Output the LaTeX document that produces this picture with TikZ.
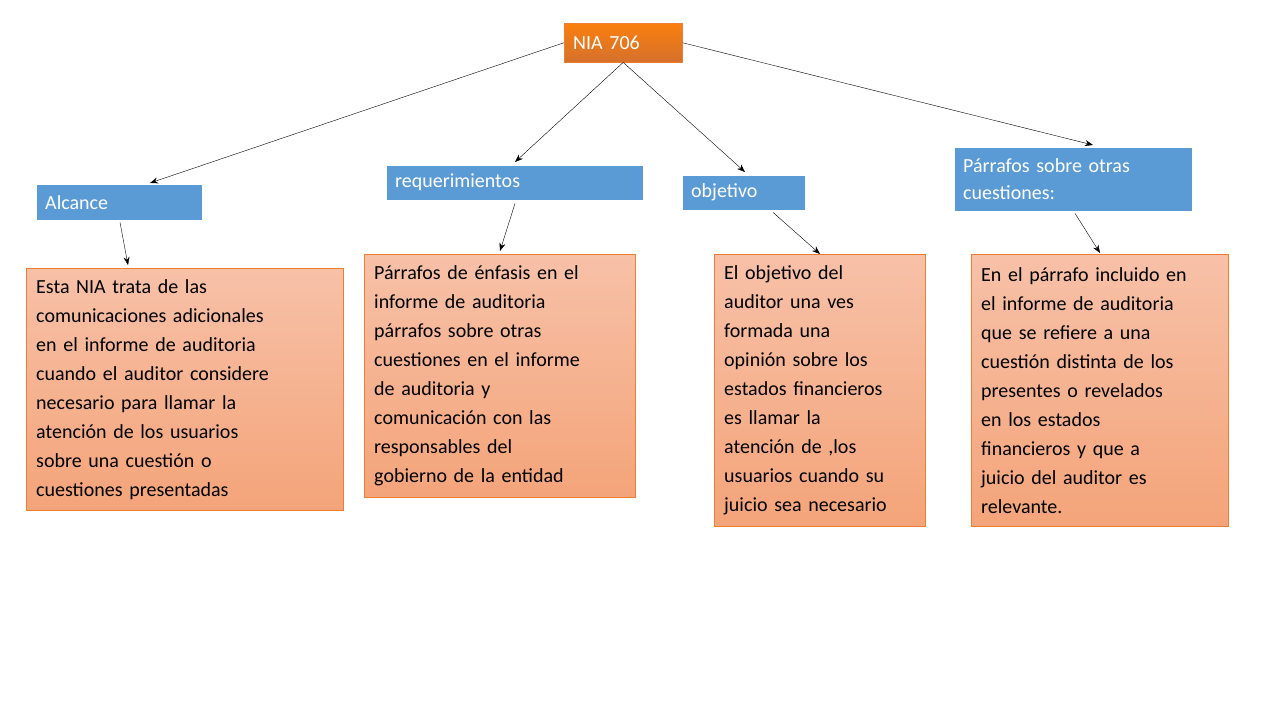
\documentclass[tikz,border=0pt]{standalone}
\usepackage{fontspec}
\setmainfont{Carlito}
\usetikzlibrary{arrows.meta,calc}
\begin{document}
\begin{tikzpicture}[x=1pt,y=-1pt,
  head/.style={draw=white,fill=blue5,text=white,anchor=north west,inner xsep=9pt,inner ysep=0pt,align=left,font=\fontsize{20}{27}\selectfont},
  body/.style={draw=obd,top color=otop,bottom color=obot,anchor=north west,inner xsep=10pt,inner ysep=0pt,align=left,font=\fontsize{20}{29}\selectfont},
  arr/.style={-{Stealth[length=8pt,width=6pt]},black}]
\definecolor{blue5}{HTML}{5B9BD5}
\definecolor{obd}{HTML}{ED7D31}
\definecolor{otop}{HTML}{F7C1A8}
\definecolor{obot}{HTML}{F4A479}
\useasboundingbox[fill=white] (0,0) rectangle (1280,720);
\node[draw=obd,top color=orange!70!obd,bottom color=obd!90!black,text=white,anchor=north west,minimum width=118pt,minimum height=39pt,inner xsep=9pt,align=left,text width=100pt,font=\fontsize{20}{24}\selectfont] (nia) at (564,23) {NIA 706};
\node[head,minimum width=166pt,minimum height=36pt,text width=148pt] (alc) at (36,184) {Alcance};
\node[head,minimum width=257pt,minimum height=35pt,text width=239pt] (req) at (386,165) {requerimientos};
\node[head,minimum width=123pt,minimum height=35pt,text width=105pt] (obj) at (682,175) {objetivo};
\node[head,minimum width=238pt,minimum height=64pt,text width=220pt] (par) at (954,147) {Párrafos sobre otras\\cuestiones:};
\node[body,minimum width=317pt,minimum height=242pt,text width=297pt] (b1) at (26,268) {Esta NIA trata de las\\comunicaciones adicionales\\en el informe de auditoria\\cuando el auditor considere\\necesario para llamar la\\atención de los usuarios\\sobre una cuestión o\\cuestiones presentadas};
\node[body,minimum width=271pt,minimum height=243pt,text width=251pt] (b2) at (364,254) {Párrafos de énfasis en el\\informe de auditoria\\párrafos sobre otras\\cuestiones en el informe\\de auditoria y\\comunicación con las\\responsables del\\gobierno de la entidad};
\node[body,minimum width=211pt,minimum height=272pt,text width=191pt] (b3) at (714,254) {El objetivo del\\auditor una ves\\formada una\\opinión sobre los\\estados financieros\\es llamar la\\atención de ,los\\usuarios cuando su\\juicio sea necesario};
\node[body,minimum width=257pt,minimum height=272pt,text width=237pt] (b4) at (971,254) {En el párrafo incluido en\\el informe de auditoria\\que se refiere a una\\cuestión distinta de los\\presentes o revelados\\en los estados\\financieros y que a\\juicio del auditor es\\relevante.};
\draw[arr] (nia.west) -- ($(alc.north west)+(114,-1)$);
\draw[arr] (nia.south) -- ($(req.north west)+(129,-3)$);
\draw[arr] (nia.south) -- ($(obj.north west)+(63,-3)$);
\draw[arr] (nia.east) -- ($(par.north west)+(139,-2)$);
\draw[arr] ($(alc.south west)+(84,2)$) -- ($(b1.north west)+(102,-3)$);
\draw[arr] ($(req.south west)+(129,3)$) -- ($(b2.north west)+(136,-3)$);
\draw[arr] ($(obj.south west)+(91,2)$) -- ($(b3.north west)+(106,0)$);
\draw[arr] ($(par.south west)+(121,2)$) -- ($(b4.north west)+(129,-1)$);
\end{tikzpicture}
\end{document}
